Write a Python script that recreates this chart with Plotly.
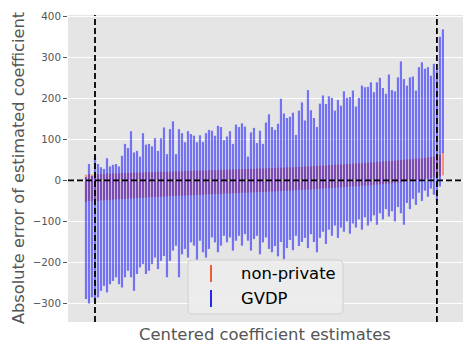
import plotly.graph_objects as go

# ---- data ----
gvdp_high = [8, 40, 11, 60, 40, 32, 28, 54, 34, 38,
             40, 34, 60, 89, 79, 120, 68, 72, 58, 115,
             87, 89, 83, 103, 72, 103, 129, 64, 125, 144,
             64, 125, 115, 93, 120, 113, 109, 93, 110, 94,
             115, 123, 121, 109, 133, 130, 98, 107, 120, 89,
             136, 130, 139, 131, 58, 117, 128, 91, 121, 89,
             141, 161, 130, 123, 138, 199, 163, 152, 155, 165,
             111, 170, 190, 146, 220, 171, 152, 130, 187, 207,
             186, 205, 201, 170, 196, 182, 217, 201, 203, 219,
             180, 201, 231, 227, 228, 239, 215, 239, 250, 225,
             211, 258, 220, 217, 251, 290, 247, 231, 251, 253,
             219, 276, 288, 272, 276, 255, 284, 268, 350, 368]
gvdp_low = [-289, -300, -285, -297, -285, -269, -257, -273, -253, -245,
            -236, -253, -261, -236, -220, -236, -269, -228, -212, -204,
            -228, -220, -204, -188, -216, -196, -184, -236, -196, -171,
            -159, -236, -180, -167, -188, -151, -159, -196, -147, -175,
            -188, -167, -139, -151, -175, -159, -135, -151, -139, -171,
            -147, -135, -159, -131, -147, -171, -143, -135, -180, -151,
            -139, -167, -175, -160, -185, -150, -192, -165, -145, -170,
            -135, -160, -150, -140, -165, -131, -150, -175, -140, -125,
            -155, -120, -135, -110, -140, -115, -125, -100, -130, -105,
            -115, -95, -120, -90, -110, -100, -85, -108, -80, -95,
            -70, -88, -75, -100, -65, -80, -108, -55, -70, -45,
            -60, -30, -50, -25, -40, -20, -35, -49, -15, 67]
nonpriv_low = [-52, -50, -51, -49, -50, -48, -49, -47, -48, -47,
               -46, -46, -45, -45, -44, -44, -43, -43, -42, -42,
               -42, -41, -41, -40, -40, -40, -39, -39, -38, -38,
               -38, -37, -37, -37, -36, -36, -36, -35, -35, -35,
               -34, -34, -34, -33, -33, -33, -32, -32, -32, -31,
               -31, -31, -30, -30, -30, -29, -29, -29, -28, -28,
               -28, -27, -27, -27, -26, -26, -25, -25, -25, -24,
               -24, -23, -23, -23, -22, -22, -21, -21, -20, -20,
               -19, -19, -18, -18, -17, -17, -16, -16, -15, -15,
               -14, -14, -13, -13, -12, -12, -11, -10, -10, -9,
               -8, -8, -7, -6, -5, -5, -4, -3, -2, -1,
               0, 1, 2, 3, 5, 6, 8, 9, 10, 12]
nonpriv_high = [14, 15, 14, 16, 15, 16, 15, 17, 16, 17,
                17, 17, 18, 18, 18, 18, 19, 19, 19, 19,
                20, 20, 20, 20, 21, 21, 21, 21, 21, 22,
                22, 22, 22, 23, 23, 23, 23, 24, 24, 24,
                24, 25, 25, 25, 25, 26, 26, 26, 26, 27,
                27, 27, 27, 28, 28, 28, 28, 29, 29, 29,
                29, 30, 30, 30, 31, 31, 31, 32, 32, 32,
                33, 33, 33, 34, 34, 34, 35, 35, 36, 36,
                36, 37, 37, 38, 38, 39, 39, 40, 40, 41,
                41, 42, 42, 43, 43, 44, 44, 45, 45, 46,
                46, 47, 47, 48, 49, 49, 50, 51, 51, 52,
                53, 53, 54, 55, 56, 57, 58, 60, 62, 68]
cutoff_idx = [3, 117]
y_ticks = [-300, -200, -100, 0, 100, 200, 300, 400]
series_names = ["non-private", "GVDP"]

idx = list(range(len(gvdp_high)))


def segments(lows, highs):
    xs, ys = [], []
    for i, lo, hi in zip(idx, lows, highs):
        xs += [i, i, None]
        ys += [lo, hi, None]
    return xs, ys


fig = go.Figure()
for name, lows, highs, col in [
        (series_names[0], nonpriv_low, nonpriv_high, "rgba(255,69,0,0.5)"),
        (series_names[1], gvdp_low, gvdp_high, "rgba(0,0,255,0.5)")]:
    xs, ys = segments(lows, highs)
    fig.add_trace(go.Scatter(x=xs, y=ys, mode="lines", name=name,
                             line=dict(color=col, width=2.2),
                             connectgaps=False, showlegend=False,
                             hoverinfo="skip"))

# dashed reference lines
for c in cutoff_idx:
    fig.add_shape(type="line", xref="x", yref="paper", x0=c, x1=c, y0=0, y1=1,
                  line=dict(color="black", width=1.8, dash="6px,3px"))
fig.add_shape(type="line", xref="paper", yref="y", x0=0, x1=1, y0=0, y1=0,
              line=dict(color="black", width=1.8, dash="6px,3px"))

# plot area in page pixels
L, R, T, B = 68, 463, 15, 322
W, H = R - L, B - T


def px(x):
    return (x - L) / W


def py(y):
    return (B - y) / H


# manual legend (matplotlib-like)
bx0, bx1, by0, by1 = 188, 343, 260, 314
r = 4
path = (f"M {px(bx0 + r)},{py(by0)} L {px(bx1 - r)},{py(by0)} "
        f"Q {px(bx1)},{py(by0)} {px(bx1)},{py(by0 + r)} "
        f"L {px(bx1)},{py(by1 - r)} Q {px(bx1)},{py(by1)} {px(bx1 - r)},{py(by1)} "
        f"L {px(bx0 + r)},{py(by1)} Q {px(bx0)},{py(by1)} {px(bx0)},{py(by1 - r)} "
        f"L {px(bx0)},{py(by0 + r)} Q {px(bx0)},{py(by0)} {px(bx0 + r)},{py(by0)} Z")
fig.add_shape(type="path", xref="paper", yref="paper", path=path,
              fillcolor="rgba(236,236,236,0.9)", line=dict(color="rgb(208,208,208)", width=1))
leg_colors = ["rgb(232,96,56)", "rgb(40,40,232)"]
leg_y = [(265, 282), (290, 307)]
for name, col, (y0, y1) in zip(series_names, leg_colors, leg_y):
    fig.add_shape(type="line", xref="paper", yref="paper",
                  x0=px(211), x1=px(211), y0=py(y0), y1=py(y1),
                  line=dict(color=col, width=2))
    fig.add_annotation(xref="paper", yref="paper", x=px(239), y=py((y0 + y1) / 2),
                       text=name, showarrow=False, xanchor="left", yanchor="middle",
                       font=dict(family="DejaVu Sans", size=16.4, color="black"))

# axis labels
fig.add_annotation(xref="paper", yref="paper", x=px(18), y=py(168),
                   text="Absolute error of estimated coefficient", textangle=-90,
                   showarrow=False, xanchor="center", yanchor="middle",
                   font=dict(family="DejaVu Sans", size=16.2, color="#555555"))
fig.add_annotation(xref="paper", yref="paper", x=px(265), y=py(334),
                   text="Centered coefficient estimates",
                   showarrow=False, xanchor="center", yanchor="middle",
                   font=dict(family="DejaVu Sans", size=16.4, color="#555555"))

fig.update_layout(
    width=474, height=355,
    margin=dict(l=L, r=474 - R, t=T, b=355 - B, pad=0, autoexpand=False),
    paper_bgcolor="white", plot_bgcolor="#E5E5E5",
    showlegend=False,
    xaxis=dict(range=[-6, 125.7], showticklabels=False, ticks="", showgrid=False,
               zeroline=False, showline=False),
    yaxis=dict(range=[-345, 403], tickvals=y_ticks, showgrid=True, gridcolor="white",
               gridwidth=1, zeroline=False, showline=False, ticks="outside", ticklen=4,
               tickcolor="#555555", tickwidth=1,
               tickfont=dict(family="DejaVu Sans", size=10.3, color="#555555")),
)

fig.write_html("out.html", config={"displayModeBar": False},
               post_script="document.body.style.margin='0';")
